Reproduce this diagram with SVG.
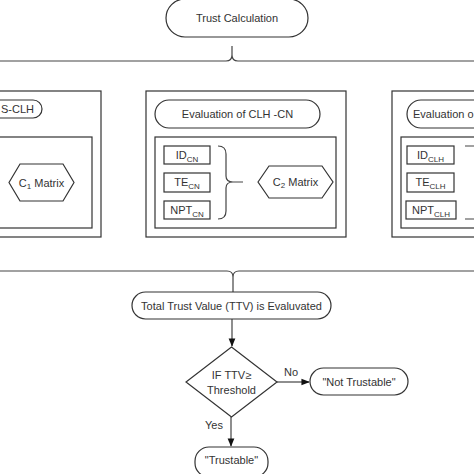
<svg xmlns="http://www.w3.org/2000/svg" width="474" height="474" viewBox="0 0 474 474">
<defs>
<style>
.s{fill:#fff;stroke:#333;stroke-width:1.2}
.l{fill:none;stroke:#444;stroke-width:1.2}
.t{font-family:"Liberation Sans",Arial,sans-serif;font-size:11px;fill:#333;text-anchor:middle}
.sub{font-size:8px}
</style>
<marker id="ah" viewBox="0 0 10 10" refX="9" refY="5" markerWidth="7" markerHeight="7" orient="auto"><path d="M0,1 L10,5 L0,9 z" fill="#111"/></marker>
</defs>
<rect width="474" height="474" fill="#fff"/>

<g id="connectors">
<path class="l" d="M0,61 H226 Q232,61 232,55 V46 M232,55 Q232,61 238,61 H474"/>
<path class="l" d="M0,271 H227 Q233,271 233,277 V292 M233,277 Q233,271 239,271 H474"/>
<path class="l" d="M232,319 V346" marker-end="url(#ah)"/>
<path class="l" d="M277,382 H309" marker-end="url(#ah)"/>
<path class="l" d="M231,417 V446" marker-end="url(#ah)"/>
<text class="t" x="291" y="376">No</text>
<text class="t" x="214" y="429">Yes</text>
</g>

<g id="trust-calculation">
<rect class="s" x="166" y="-1" width="142" height="38" rx="19"/>
<text class="t" x="237" y="22">Trust Calculation</text>
</g>

<g id="left-block">
<rect class="s" x="-10" y="91" width="111" height="146"/>
<rect class="s" x="-40" y="100" width="82" height="18" rx="9"/>
<text class="t" x="1" y="113" style="text-anchor:start">S-CLH</text>
<rect class="s" x="-10" y="137" width="102" height="91"/>
<polygon class="s" points="9,182.5 20,164 63,164 74,182.5 63,201 20,201"/>
<text class="t" x="41.5" y="186.5">C<tspan class="sub" dy="2">1</tspan><tspan dy="-2"> Matrix</tspan></text>
</g>

<g id="middle-block">
<rect class="s" x="146" y="91" width="200" height="146"/>
<rect class="s" x="155" y="100" width="165" height="28" rx="14"/>
<text class="t" x="237.5" y="118">Evaluation of CLH -CN</text>
<rect class="s" x="155" y="137" width="181" height="91"/>
<rect class="s" x="164" y="146" width="46" height="18"/>
<text class="t" x="187" y="159">ID<tspan class="sub" dy="3">CN</tspan></text>
<rect class="s" x="164" y="173" width="46" height="19"/>
<text class="t" x="187" y="186">TE<tspan class="sub" dy="3">CN</tspan></text>
<rect class="s" x="164" y="201" width="46" height="18"/>
<text class="t" x="187" y="214">NPT<tspan class="sub" dy="3">CN</tspan></text>
<path class="l" d="M218,146 Q226,146 226,154 V176 Q226,182 233,182 Q226,182 226,188 V211 Q226,219 218,219 M233,182 H243"/>
<polygon class="s" points="258,182 269,166 322,166 333,182 322,198 269,198"/>
<text class="t" x="295.5" y="186">C<tspan class="sub" dy="2">2</tspan><tspan dy="-2"> Matrix</tspan></text>
</g>

<g id="right-block">
<rect class="s" x="392" y="91" width="100" height="146"/>
<rect class="s" x="407" y="100" width="100" height="28" rx="14"/>
<text class="t" x="413" y="118" style="text-anchor:start">Evaluation o</text>
<rect class="s" x="401" y="137" width="90" height="91"/>
<rect class="s" x="407" y="146" width="47" height="18"/>
<text class="t" x="430.5" y="159">ID<tspan class="sub" dy="3">CLH</tspan></text>
<rect class="s" x="407" y="173" width="47" height="19"/>
<text class="t" x="430.5" y="186">TE<tspan class="sub" dy="3">CLH</tspan></text>
<rect class="s" x="406" y="201" width="50" height="18"/>
<text class="t" x="431" y="214">NPT<tspan class="sub" dy="3">CLH</tspan></text>
<path class="l" d="M465,146 H474 M465,219 H474"/>
</g>

<g id="ttv">
<rect class="s" x="132" y="292" width="199" height="27" rx="13.5"/>
<text class="t" x="231.5" y="309.5">Total Trust Value (TTV) is Evaluvated</text>
</g>

<g id="decision">
<polygon class="s" points="231.5,347 277,382 231.5,417 186,382"/>
<text class="t" x="231.5" y="379">IF TTV≥</text>
<text class="t" x="231.5" y="394">Threshold</text>
</g>

<g id="not-trustable">
<rect class="s" x="310" y="368" width="98" height="27" rx="13.5"/>
<text class="t" x="359" y="385.5">"Not Trustable"</text>
</g>

<g id="trustable">
<rect class="s" x="195" y="447" width="73" height="30" rx="14"/>
<text class="t" x="231.5" y="464">"Trustable"</text>
</g>
</svg>
